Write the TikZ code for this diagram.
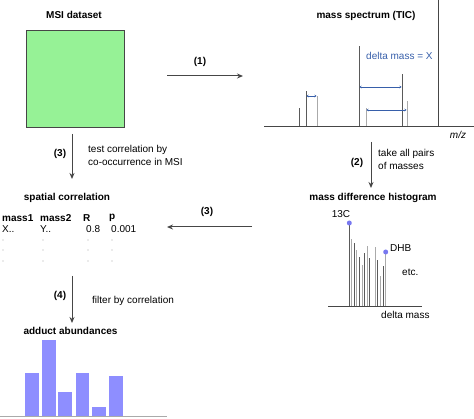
\documentclass[tikz,border=0pt]{standalone}
\usepackage{fontspec}
\setmainfont{Liberation Sans}
\usetikzlibrary{arrows.meta}
\definecolor{msigreen}{RGB}{150,242,150}
\definecolor{barblue}{RGB}{142,142,255}
\definecolor{dotblue}{RGB}{120,120,240}
\definecolor{txtblue}{RGB}{55,95,170}
\definecolor{linegray}{RGB}{70,70,70}
\definecolor{peakdark}{RGB}{90,90,90}
\definecolor{peaklight}{RGB}{170,170,170}
\tikzset{
  title/.style={font=\fontsize{10}{12}\selectfont\bfseries, inner sep=0pt},
  lbl/.style={font=\fontsize{10}{12}\selectfont, inner sep=0pt},
  flow/.style={draw=linegray, line width=1pt, -{Stealth[length=6pt,width=5pt]}},
  peakd/.style={draw=peakdark, line width=0.9pt},
  peakl/.style={draw=peaklight, line width=0.9pt},
  delta/.style={draw=txtblue, line width=0.7pt, {Stealth[length=2pt,width=2.5pt]}-{Stealth[length=2pt,width=2.5pt]}},
  axisline/.style={draw=linegray, line width=0.9pt},
  bar/.style={fill=barblue, draw=none},
  dot/.style={circle, fill=dotblue, inner sep=0pt, minimum size=5pt},
}
\begin{document}
\begin{tikzpicture}[x=1pt,y=-1pt]
\useasboundingbox (0,0) rectangle (474,419);

% MSI dataset
\node[title] (msititle) at (74,15) {MSI dataset};
\node[draw=linegray, line width=0.8pt, fill=msigreen, minimum width=98pt, minimum height=97pt, inner sep=0pt] (msi) at (75,78.5) {};

% arrow (1)
\coordinate (a1s) at (167,76);
\coordinate (a1e) at (243,76);
\draw[flow] (a1s) -- (a1e);
\node[title] (l1) at (200,62) {(1)};

% mass spectrum
\node[title] (spectitle) at (366,16) {mass spectrum (TIC)};
\coordinate (ax0) at (264,126);
\coordinate (ax1) at (474,126);
\draw[axisline] (ax0) -- (ax1);
\coordinate (tic0) at (438,0);
\coordinate (tic1) at (438,126);
\draw[axisline] (tic0) -- (tic1);
\node[lbl, font=\fontsize{10}{12}\selectfont\itshape] (mz) at (458,135) {m/z};
\foreach \x/\t in {299/108, 306/91, 359/46, 402/74}
  \draw[peakd] (\x,126) -- (\x,\t);
\foreach \x/\t in {317/96, 366/108, 407/101}
  \draw[peakl] (\x,126) -- (\x,\t);
\coordinate (d1a) at (306.5,96); \coordinate (d1b) at (316.5,96);
\draw[delta] (d1a) -- (d1b);
\coordinate (d2a) at (359.5,87); \coordinate (d2b) at (401.5,87);
\draw[delta] (d2a) -- (d2b);
\coordinate (d3a) at (366.5,110); \coordinate (d3b) at (406.5,110);
\draw[delta] (d3a) -- (d3b);
\node[lbl, text=txtblue, anchor=west] (dm) at (366,56) {delta mass = X};

% arrow (2)
\coordinate (a2s) at (371,142);
\coordinate (a2e) at (371,188);
\draw[flow] (a2s) -- (a2e);
\node[title] (l2) at (357,163) {(2)};
\node[lbl, anchor=west] (t2a) at (378,154) {take all pairs};
\node[lbl, anchor=west] (t2b) at (378,166) {of masses};

% histogram
\node[title] (histtitle) at (373,198) {mass difference histogram};
\coordinate (hb0) at (328,306);
\coordinate (hb1) at (422,306);
\draw[axisline, line width=0.8pt] (hb0) -- (hb1);
\foreach \x/\t [count=\i] in {349.3/223.3, 351.7/239.3, 354/242.7, 356.7/250, 359.3/257.3, 362/265, 364.7/252.7, 367/245.7, 369.7/258.3, 375/247, 377.7/260, 380.3/276, 383/266, 385.7/252.3}{
  \ifodd\i
    \draw[peakd, line width=0.7pt] (\x,306) -- (\x,\t);
  \else
    \draw[peakl, line width=0.7pt] (\x,306) -- (\x,\t);
  \fi
}
\node[dot] (c13) at (349.3,223) {};
\node[dot] (dhb) at (385.7,252) {};
\node[lbl] (c13l) at (341,214) {13C};
\node[lbl, anchor=west] (dhbl) at (390,248) {DHB};
\node[lbl, anchor=west] (etc) at (402,272) {etc.};
\node[lbl, anchor=west] (dml) at (381,315) {delta mass};

% arrow (3) horizontal
\coordinate (a3s) at (252,227);
\coordinate (a3e) at (167,227);
\draw[flow] (a3s) -- (a3e);
\node[title] (l3h) at (207,212) {(3)};

% arrow (3) vertical
\coordinate (a3vs) at (72,134);
\coordinate (a3ve) at (72,179);
\draw[flow] (a3vs) -- (a3ve);
\node[title] (l3v) at (60,154) {(3)};
\node[lbl, anchor=west] (t3a) at (88,150) {test correlation by};
\node[lbl, anchor=west] (t3b) at (88,162) {co-occurrence in MSI};

% spatial correlation
\node[title] (sptitle) at (67,198) {spatial correlation};
\node[title, anchor=west] (h1) at (2,218) {mass1};
\node[title, anchor=west] (h2) at (40,218) {mass2};
\node[title, anchor=west] (h3) at (83,218) {R};
\node[title, anchor=west] (h4) at (109,218) {p};
\node[lbl, anchor=west] (r1) at (2,229) {X..};
\node[lbl, anchor=west] (r2) at (40,229) {Y..};
\node[lbl, anchor=west] (r3) at (86,229) {0.8};
\node[lbl, anchor=west] (r4) at (111,229) {0.001};
\foreach \x in {3,43,88,112}
  \foreach \y in {240,250,261}
    \fill[peaklight] (\x,\y) circle (0.6pt);

% arrow (4)
\coordinate (a4s) at (72,276);
\coordinate (a4e) at (72,323);
\draw[flow] (a4s) -- (a4e);
\node[title] (l4) at (60,296) {(4)};
\node[lbl, anchor=west] (t4) at (92,301) {filter by correlation};

% adduct abundances
\node[title] (adtitle) at (70.5,331) {adduct abundances};
\foreach \xa/\xb/\t in {25/39/373, 42/56/340, 58/72/392, 76/89/373, 92/106/407, 109/123/376}
  \fill[bar] (\xa,416) rectangle (\xb,\t);
\coordinate (bb0) at (0,416.5);
\coordinate (bb1) at (167,416.5);
\draw[peaklight, line width=0.8pt] (bb0) -- (bb1);
\end{tikzpicture}
\end{document}
